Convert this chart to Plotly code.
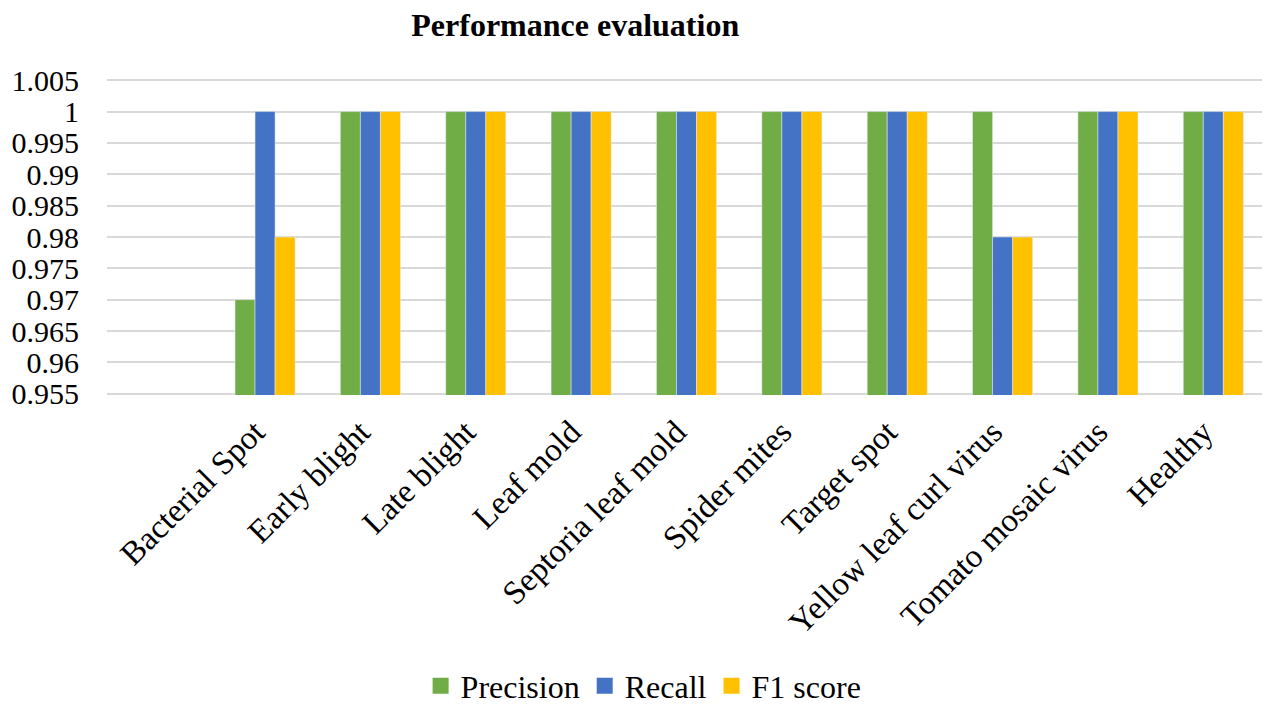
import plotly.graph_objects as go

# categories and scores
classes = ["Bacterial Spot", "Early blight", "Late blight", "Leaf mold",
           "Septoria leaf mold", "Spider mites", "Target spot",
           "Yellow leaf curl virus", "Tomato mosaic virus", "Healthy"]
precision = [0.97, 1, 1, 1, 1, 1, 1, 1, 1, 1]
recall = [1, 1, 1, 1, 1, 1, 1, 0.98, 1, 1]
f1_score = [0.98, 1, 1, 1, 1, 1, 1, 0.98, 1, 1]

y_ticks = [0.955, 0.96, 0.965, 0.97, 0.975, 0.98, 0.985, 0.99, 0.995, 1, 1.005]
y_labels = ["0.955", "0.96", "0.965", "0.97", "0.975", "0.98", "0.985",
            "0.99", "0.995", "1", "1.005"]

font = "Liberation Serif, Times New Roman, serif"
colors = {"Precision": "#70AD47", "Recall": "#4472C4", "F1 score": "#FFC000"}

fig = go.Figure()
for name, vals in [("Precision", precision), ("Recall", recall), ("F1 score", f1_score)]:
    fig.add_trace(go.Bar(x=classes, y=vals, name=name, marker_color=colors[name],
                         showlegend=False))
    # bigger square swatch for the legend
    fig.add_trace(go.Scatter(x=[None], y=[None], mode="markers", name=name,
                             marker=dict(symbol="square", size=18, color=colors[name])))

# page body adds an 8px margin, so the figure is 8px smaller each way
fig.update_layout(
    width=1262, height=699,
    margin=dict(l=99, r=4, t=71, b=312),
    paper_bgcolor="white", plot_bgcolor="white",
    font=dict(family=font, size=33, color="#000000"),
    barmode="group", bargap=0.43, bargroupgap=0,
    title=dict(text="<b>Performance evaluation</b>", font=dict(size=32, family=font),
               x=0.404, xref="paper", xanchor="center",
               y=0.976, yref="container", yanchor="middle"),
    legend=dict(orientation="h", x=0.463, xanchor="center", y=0.03, yref="container",
                yanchor="middle", font=dict(size=32, family=font), itemwidth=30,
                traceorder="normal"),
)
fig.update_xaxes(type="category", range=[-1.5, len(classes) - 0.5], tickangle=-45,
                 showgrid=False, showline=False, ticks="", ticklabelstandoff=10,
                 ticklabelshift=-10, automargin=False,
                 tickfont=dict(size=33, family=font))
fig.update_yaxes(range=[0.9548, 1.0052], tickvals=y_ticks, ticktext=y_labels,
                 showgrid=True, gridcolor="#D9D9D9", gridwidth=1.5,
                 zeroline=False, showline=False, ticklabelstandoff=27, automargin=False,
                 tickfont=dict(size=30, family=font))

fig.write_html("out.html")
